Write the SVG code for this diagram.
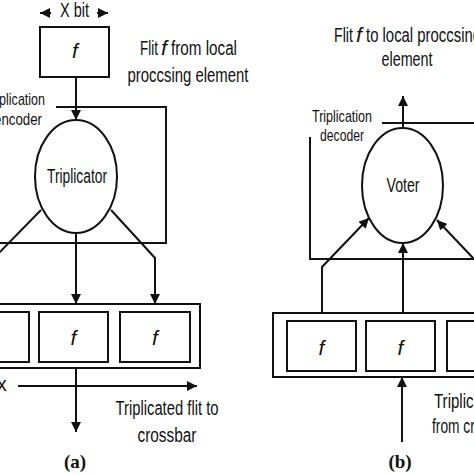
<svg xmlns="http://www.w3.org/2000/svg" width="474" height="474" viewBox="0 0 474 474">
<style>
.ln{fill:none;stroke:#111;stroke-width:2}
.bx{fill:#fff;stroke:#111;stroke-width:2}
.t{font-family:"Liberation Sans",Arial,sans-serif;font-size:19.5px;fill:#111}
.s{font-size:17px}
.m{text-anchor:middle}
.i{font-style:italic}
.f{font-size:21px}
.cap{font-family:"Liberation Serif","Times New Roman",serif;font-weight:bold;font-size:19px;fill:#111;text-anchor:middle}
</style>
<defs>
<marker id="ah" viewBox="0 0 10 10" refX="10" refY="5" markerWidth="5" markerHeight="5" orient="auto" markerUnits="strokeWidth">
<path d="M0,0 L10,5 L0,10 z" fill="#111"/>
</marker>
</defs>
<rect width="474" height="474" fill="#fff"/>

<!-- (a) -->
<g id="xbit">
<line class="ln" x1="51" y1="13" x2="40" y2="13" stroke-width="1.6" marker-end="url(#ah)"/>
<text class="t" x="60" y="17" textLength="29" lengthAdjust="spacingAndGlyphs" font-size="20">X bit</text>
<line class="ln" x1="97" y1="13" x2="108" y2="13" stroke-width="1.6" marker-end="url(#ah)"/>
</g>
<g id="flit-in">
<rect class="bx" x="40" y="27" width="69" height="50"/>
<text class="t m i f" x="75" y="58">f</text>
</g>
<g id="label-from">
<text class="t" x="140" y="55" textLength="18" lengthAdjust="spacingAndGlyphs">Flit</text>
<text class="t i" x="161" y="55" textLength="6" lengthAdjust="spacingAndGlyphs">f</text>
<text class="t" x="171" y="55" textLength="66" lengthAdjust="spacingAndGlyphs">from local</text>
<text class="t m" x="188" y="82" textLength="121" lengthAdjust="spacingAndGlyphs">proccsing element</text>
</g>
<g id="encoder-label">
<text class="t s m" x="15" y="105" textLength="60" lengthAdjust="spacingAndGlyphs">Triplication</text>
<text class="t s m" x="18" y="125" textLength="48" lengthAdjust="spacingAndGlyphs">encoder</text>
</g>
<g id="encoder-frame">
<polyline class="ln" points="56,107 166,107 166,243 -5,243"/>
</g>
<g id="triplicator">
<ellipse class="bx" cx="76" cy="176.5" rx="41" ry="56.5"/>
<text class="t m" x="77" y="183" textLength="60" lengthAdjust="spacingAndGlyphs">Triplicator</text>
</g>
<g id="buffer-a">
<rect class="bx" x="-10" y="304" width="210" height="64"/>
<rect class="bx" x="-40" y="312" width="69" height="50"/>
<rect class="bx" x="39" y="312" width="69" height="50"/>
<text class="t m i f" x="73.5" y="345">f</text>
<rect class="bx" x="120" y="312" width="70" height="50"/>
<text class="t m i f" x="155" y="345">f</text>
</g>
<g id="label-to-crossbar">
<text class="t" x="-3" y="391">x</text>
<text class="t m" x="167" y="415" textLength="103" lengthAdjust="spacingAndGlyphs">Triplicated flit to</text>
<text class="t m" x="167" y="442" textLength="59" lengthAdjust="spacingAndGlyphs">crossbar</text>
<text class="cap" x="75" y="468">(a)</text>
</g>

<!-- (b) -->
<g id="label-to">
<text class="t" x="334" y="42" textLength="19" lengthAdjust="spacingAndGlyphs">Flit</text>
<text class="t i" x="356" y="42" textLength="6" lengthAdjust="spacingAndGlyphs">f</text>
<text class="t" x="366" y="42" textLength="115" lengthAdjust="spacingAndGlyphs">to local proccsing</text>
<text class="t m" x="407" y="66" textLength="51" lengthAdjust="spacingAndGlyphs">element</text>
</g>
<g id="decoder-label">
<text class="t s m" x="342" y="122" textLength="60" lengthAdjust="spacingAndGlyphs">Triplication</text>
<text class="t s m" x="342" y="141" textLength="44" lengthAdjust="spacingAndGlyphs">decoder</text>
</g>
<g id="decoder-frame">
<line class="ln" x1="382" y1="123" x2="480" y2="123"/>
<polyline class="ln" points="310,137 310,259 480,259"/>
</g>
<g id="voter">
<ellipse class="bx" cx="402.5" cy="185.5" rx="40.5" ry="57.5"/>
<text class="t m" x="403" y="192" textLength="33" lengthAdjust="spacingAndGlyphs">Voter</text>
</g>
<g id="buffer-b">
<rect class="bx" x="273" y="313" width="220" height="64"/>
<rect class="bx" x="287" y="321" width="69" height="50"/>
<text class="t m i f" x="321.5" y="355">f</text>
<rect class="bx" x="366" y="321" width="69" height="50"/>
<text class="t m i f" x="400.5" y="355">f</text>
<rect class="bx" x="447" y="321" width="69" height="50"/>
</g>
<g id="label-from-crossbar">
<text class="t" x="434" y="408" textLength="88" lengthAdjust="spacingAndGlyphs">Triplicated flit</text>
<text class="t" x="432" y="433" textLength="84" lengthAdjust="spacingAndGlyphs">from crossbar</text>
<text class="cap" x="400" y="468">(b)</text>
</g>

<g id="connectors">
<line class="ln" x1="76" y1="77" x2="76" y2="120" marker-end="url(#ah)"/>
<line class="ln" x1="41" y1="210" x2="-10" y2="262"/>
<line class="ln" x1="76" y1="233" x2="76" y2="304" marker-end="url(#ah)"/>
<polyline class="ln" points="111,210 155,258 155,304" marker-end="url(#ah)"/>
<line class="ln" x1="76" y1="368" x2="76" y2="432" marker-end="url(#ah)"/>
<line class="ln" x1="18" y1="386" x2="197" y2="386" marker-end="url(#ah)"/>
<line class="ln" x1="403" y1="128" x2="403" y2="96" marker-end="url(#ah)"/>
<polyline class="ln" points="322,313 322,267 369,218" marker-end="url(#ah)"/>
<line class="ln" x1="403" y1="313" x2="403" y2="243" marker-end="url(#ah)"/>
<line class="ln" x1="474" y1="259" x2="437" y2="220" marker-end="url(#ah)"/>
<line class="ln" x1="402" y1="442" x2="402" y2="377" marker-end="url(#ah)"/>
</g>
</svg>
